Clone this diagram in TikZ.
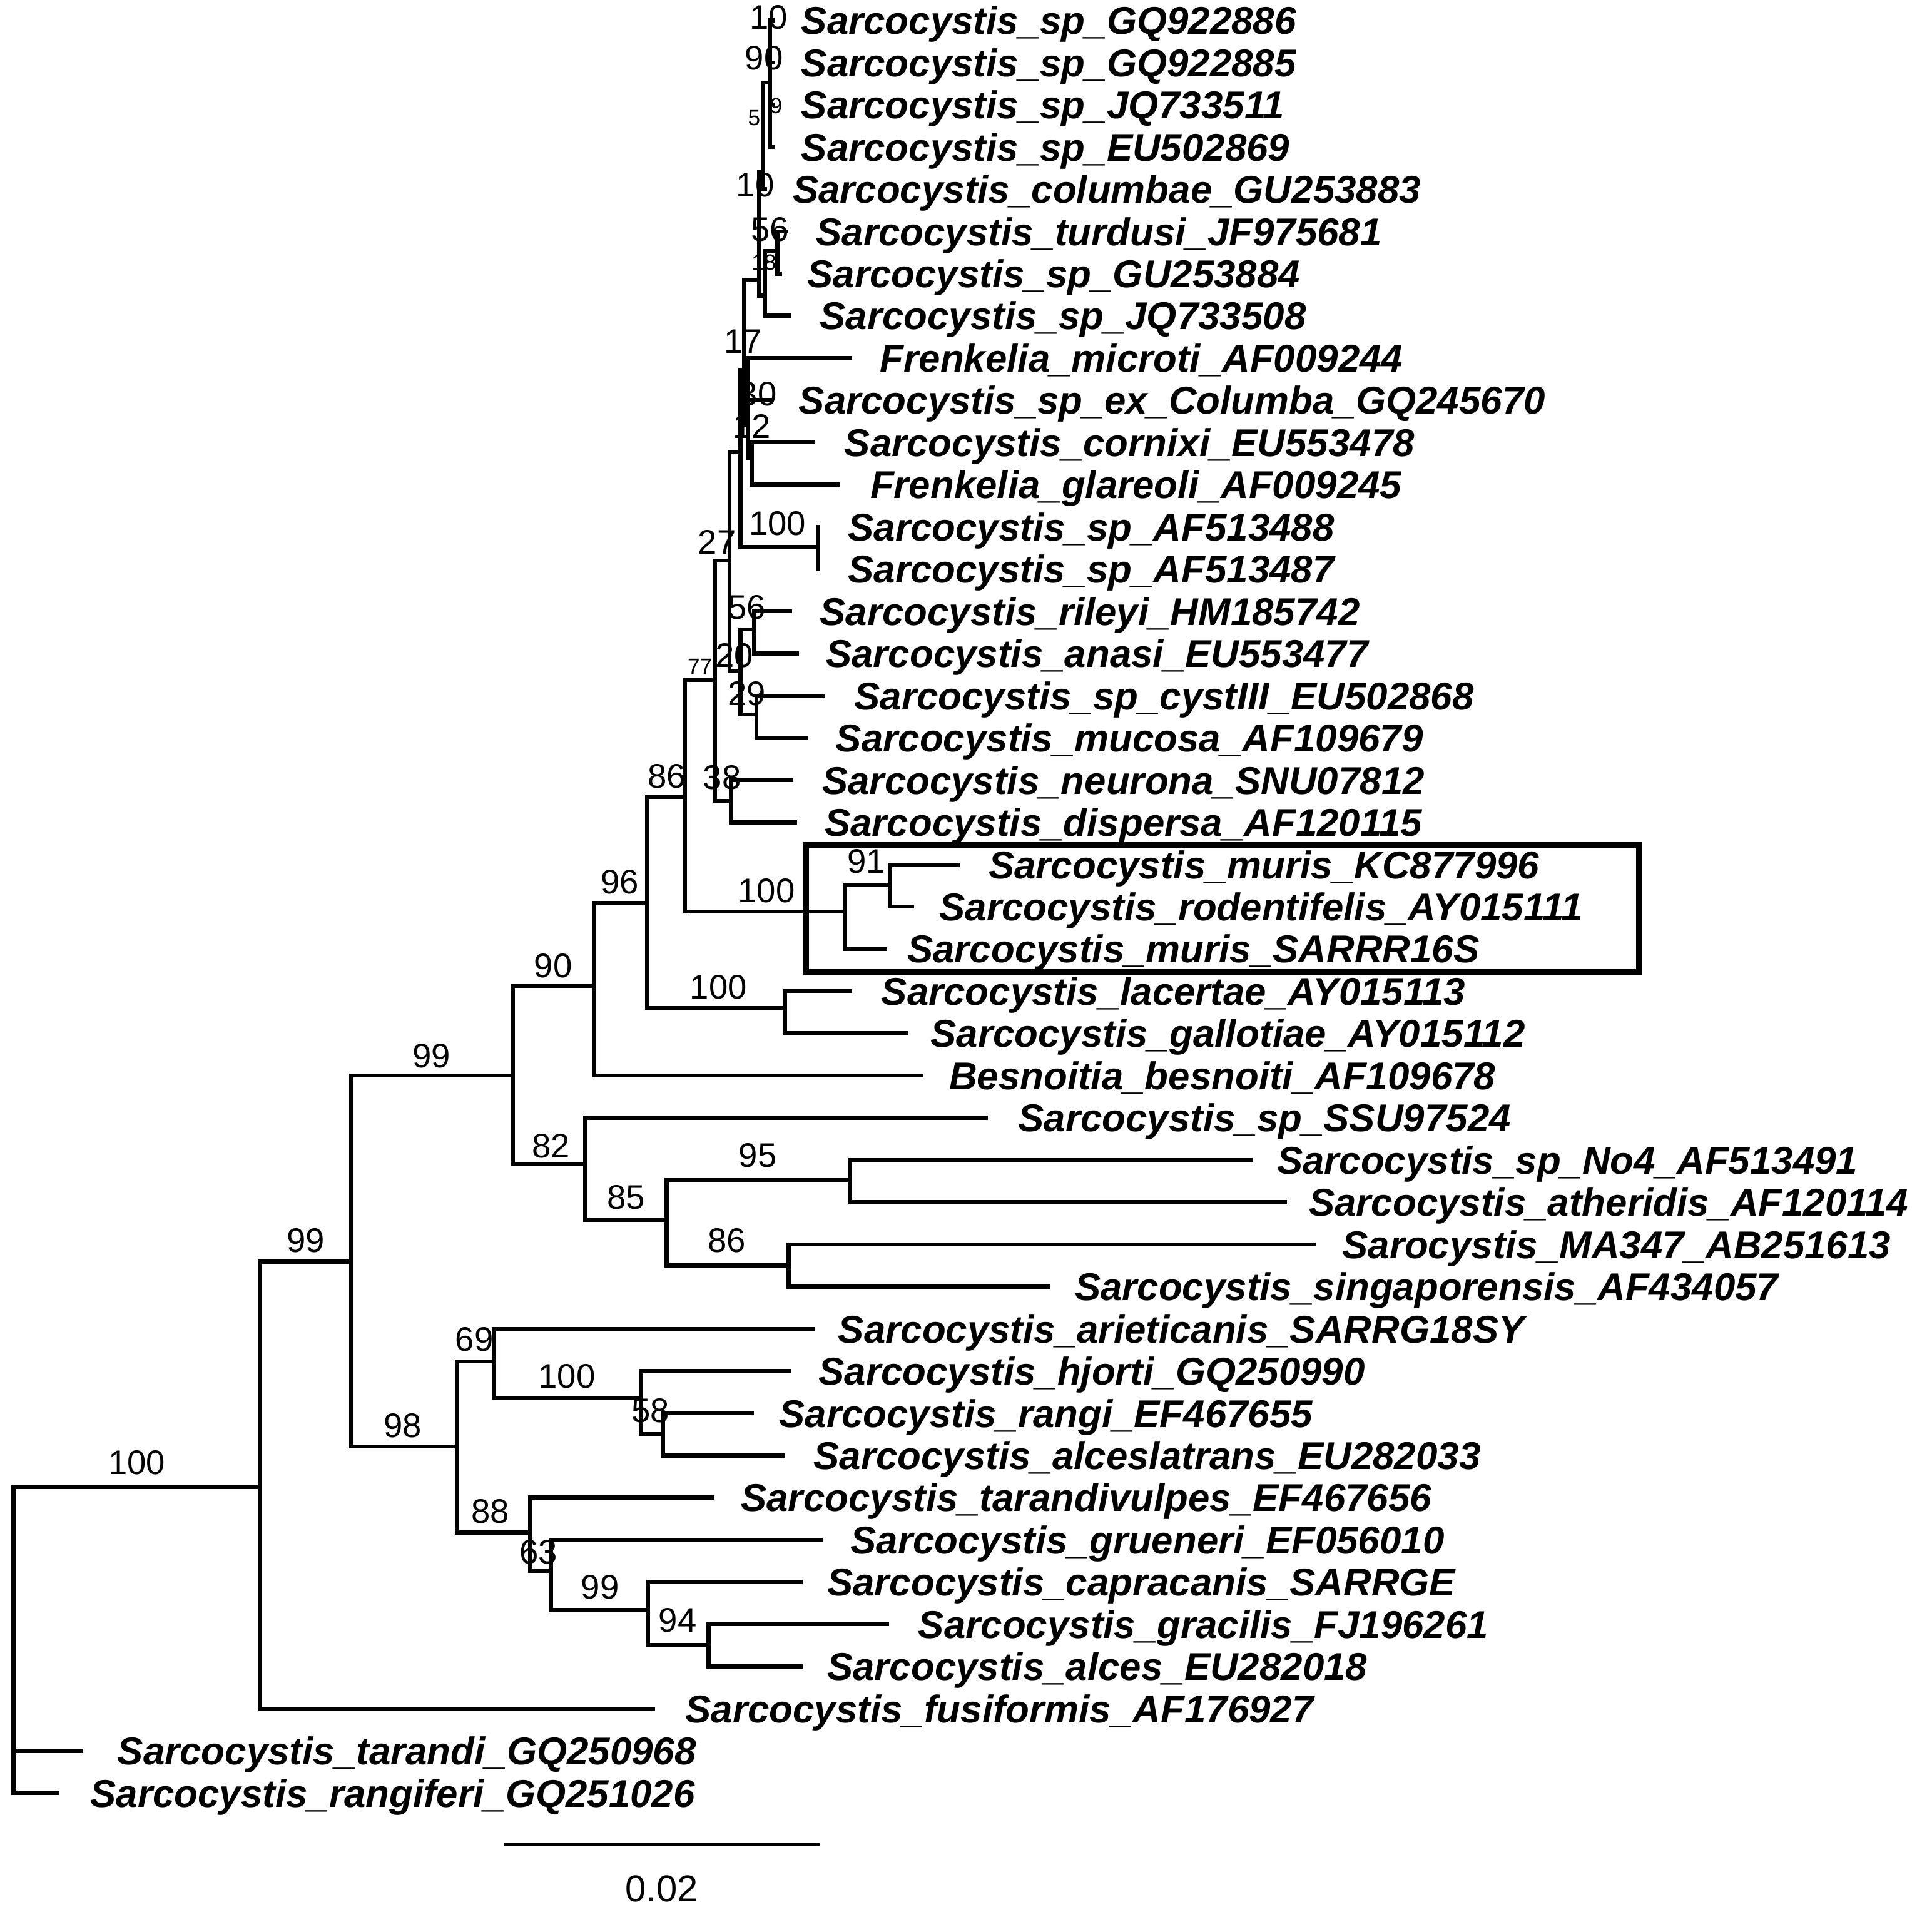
\documentclass[tikz,border=0pt]{standalone}
\usepackage{fontspec}
\setmainfont{Liberation Sans}
\newcommand\tleaf[5]{\coordinate (#1) at (#3,{16.5+34.26*#2});
  \node[lab] (#1-l) at (#4,{16.5+34.26*#2+11.3}) {#5};}
\newcommand\brc[2]{\draw[br] (#1) |- (#2);}
\begin{document}
\begin{tikzpicture}[x=0.19694mm,y=-0.19692mm,
  br/.style={line width=0.065cm,line cap=rect},
  thinbr/.style={line width=0.04cm},
  lab/.style={inner sep=0pt,anchor=base west,font=\fontsize{17.6}{20}\selectfont\bfseries\itshape},
  bsl/.style={inner sep=0pt,font=\fontsize{15.5}{18}\selectfont},
  bstiny/.style={inner sep=0pt,font=\fontsize{10}{12}\selectfont}]
\fill[white] (0,0) rectangle (1568,1556);
\useasboundingbox (0,0) rectangle (1568,1556);

% ---------- leaves ----------
\tleaf{r0}{0}{627}{650}{Sarcocystis\_sp\_GQ922886}
\tleaf{r1}{1}{627}{650}{Sarcocystis\_sp\_GQ922885}
\tleaf{r2}{2}{627}{650}{Sarcocystis\_sp\_JQ733511}
\tleaf{r3}{3}{627}{650}{Sarcocystis\_sp\_EU502869}
\tleaf{r4}{4}{621}{643}{Sarcocystis\_columbae\_GU253883}
\tleaf{r5}{5}{638}{662}{Sarcocystis\_turdusi\_JF975681}
\tleaf{r6}{6}{633}{655}{Sarcocystis\_sp\_GU253884}
\tleaf{r7}{7}{640}{665}{Sarcocystis\_sp\_JQ733508}
\tleaf{r8}{8}{690}{714}{Frenkelia\_microti\_AF009244}
\tleaf{r9}{9}{625}{648}{Sarcocystis\_sp\_ex\_Columba\_GQ245670}
\tleaf{r10}{10}{660}{685}{Sarcocystis\_cornixi\_EU553478}
\tleaf{r11}{11}{680}{706}{Frenkelia\_glareoli\_AF009245}
\tleaf{r12}{12}{664}{688}{Sarcocystis\_sp\_AF513488}
\tleaf{r13}{13}{664}{688}{Sarcocystis\_sp\_AF513487}
\tleaf{r14}{14}{641}{665}{Sarcocystis\_rileyi\_HM185742}
\tleaf{r15}{15}{647}{670}{Sarcocystis\_anasi\_EU553477}
\tleaf{r16}{16}{668}{693}{Sarcocystis\_sp\_cystIII\_EU502868}
\tleaf{r17}{17}{654}{678}{Sarcocystis\_mucosa\_AF109679}
\tleaf{r18}{18}{642}{667}{Sarcocystis\_neurona\_SNU07812}
\tleaf{r19}{19}{645}{669}{Sarcocystis\_dispersa\_AF120115}
\tleaf{r20}{20}{778}{802}{Sarcocystis\_muris\_KC877996}
\tleaf{r21}{21}{740}{762}{Sarcocystis\_rodentifelis\_AY015111}
\tleaf{r22}{22}{718}{736}{Sarcocystis\_muris\_SARRR16S}
\tleaf{r23}{23}{690}{715}{Sarcocystis\_lacertae\_AY015113}
\tleaf{r24}{24}{735}{755}{Sarcocystis\_gallotiae\_AY015112}
\tleaf{r25}{25}{748}{770}{Besnoitia\_besnoiti\_AF109678}
\tleaf{r26}{26}{800}{826}{Sarcocystis\_sp\_SSU97524}
\tleaf{r27}{27}{1015}{1036}{Sarcocystis\_sp\_No4\_AF513491}
\tleaf{r28}{28}{1043}{1062}{Sarcocystis\_atheridis\_AF120114}
\tleaf{r29}{29}{1066}{1089}{Sarocystis\_MA347\_AB251613}
\tleaf{r30}{30}{851}{872}{Sarcocystis\_singaporensis\_AF434057}
\tleaf{r31}{31}{660}{680}{Sarcocystis\_arieticanis\_SARRG18SY}
\tleaf{r32}{32}{640}{664}{Sarcocystis\_hjorti\_GQ250990}
\tleaf{r33}{33}{610}{632}{Sarcocystis\_rangi\_EF467655}
\tleaf{r34}{34}{635}{660}{Sarcocystis\_alceslatrans\_EU282033}
\tleaf{r35}{35}{578}{601}{Sarcocystis\_tarandivulpes\_EF467656}
\tleaf{r36}{36}{666}{690}{Sarcocystis\_grueneri\_EF056010}
\tleaf{r37}{37}{650}{671}{Sarcocystis\_capracanis\_SARRGE}
\tleaf{r38}{38}{720}{745}{Sarcocystis\_gracilis\_FJ196261}
\tleaf{r39}{39}{650}{671}{Sarcocystis\_alces\_EU282018}
\tleaf{r40}{40}{530}{556}{Sarcocystis\_fusiformis\_AF176927}
\tleaf{r41}{41}{66}{95}{Sarcocystis\_tarandi\_GQ250968}
\tleaf{r42}{42}{46}{73}{Sarcocystis\_rangiferi\_GQ251026}

% ---------- internal nodes ----------
\coordinate (R) at (11,1207);
\coordinate (n100) at (211,1207);
\coordinate (n99a) at (285,1024);
\coordinate (n99b) at (416,873);
\coordinate (n90) at (482,800);
\coordinate (n96) at (525,733);
\coordinate (n86a) at (556,647);
\coordinate (n100c) at (637,818);
\coordinate (nbox) at (686,740);
\coordinate (n91) at (722,718);
\coordinate (n82) at (475,945);
\coordinate (n85) at (541,990);
\coordinate (n95) at (690,958);
\coordinate (n86b) at (640,1027);
\coordinate (n98) at (371,1174);
\coordinate (n69) at (401,1105);
\coordinate (n100d) at (520,1135);
\coordinate (n58) at (538,1164);
\coordinate (n88) at (430,1244);
\coordinate (n63) at (447,1275);
\coordinate (n99c) at (526,1307);
\coordinate (n94) at (575,1335);
\coordinate (A77) at (580,552);
\coordinate (n38) at (593,650);
\coordinate (B27) at (592,455);
\coordinate (C) at (601,367);
\coordinate (D20) at (601,545);
\coordinate (n100e) at (664,444);
\coordinate (E56) at (612,511);
\coordinate (F29) at (614,580);
\coordinate (G) at (604,300);
\coordinate (G2) at (607,345);
\coordinate (K) at (610,372);
\coordinate (H) at (616,227);
\coordinate (M) at (621,240);
\coordinate (T) at (631,204);
\coordinate (L) at (619,140);
\coordinate (N) at (625,67);

% ---------- branches ----------
\brc{R}{n100} \brc{R}{r41} \brc{R}{r42}
\brc{n100}{n99a} \brc{n100}{r40}
\brc{n99a}{n99b} \brc{n99a}{n98}
\brc{n99b}{n90} \brc{n99b}{n82}
\brc{n90}{n96} \brc{n90}{r25}
\brc{n96}{n86a} \brc{n96}{n100c}
\brc{n86a}{A77}
\draw[br] (n86a) -- (n86a |- nbox);
\draw[thinbr] (n86a |- nbox) -- (nbox);
\brc{n100c}{r23} \brc{n100c}{r24}
\brc{nbox}{n91} \brc{nbox}{r22}
\brc{n91}{r20} \brc{n91}{r21}
\brc{n82}{r26} \brc{n82}{n85}
\brc{n85}{n95} \brc{n85}{n86b}
\brc{n95}{r27} \brc{n95}{r28}
\brc{n86b}{r29} \brc{n86b}{r30}
\brc{n98}{n69} \brc{n98}{n88}
\brc{n69}{r31} \brc{n69}{n100d}
\brc{n100d}{r32} \brc{n100d}{n58}
\brc{n58}{r33} \brc{n58}{r34}
\brc{n88}{r35} \brc{n88}{n63}
\brc{n63}{r36} \brc{n63}{n99c}
\brc{n99c}{r37} \brc{n99c}{n94}
\brc{n94}{r38} \brc{n94}{r39}
\brc{A77}{B27} \brc{A77}{n38}
\brc{n38}{r18} \brc{n38}{r19}
\brc{B27}{C} \brc{B27}{D20}
\brc{C}{G} \brc{C}{n100e}
\brc{n100e}{r12} \brc{n100e}{r13}
\brc{D20}{E56} \brc{D20}{F29}
\brc{E56}{r14} \brc{E56}{r15}
\brc{F29}{r16} \brc{F29}{r17}
\brc{G}{H} \brc{G}{G2}
\brc{G2}{r8} \brc{G2}{r9} \brc{G2}{K}
\brc{K}{r10} \brc{K}{r11}
\brc{H}{L} \brc{H}{M}
\brc{M}{T} \brc{M}{r7}
\brc{T}{r5} \brc{T}{r6}
\brc{L}{N} \brc{L}{r4}
\brc{N}{r0} \brc{N}{r1} \brc{N}{r2} \brc{N}{r3}

% ---------- highlight box ----------
\coordinate (bx1) at (654,686);
\coordinate (bx2) at (1330,789);
\draw[line width=0.095cm] (bx1) rectangle (bx2);

% ---------- support values ----------
\node[bsl] (b1) at (111,1187) {100};
\node[bsl] (b2) at (248,1007) {99};
\node[bsl] (b3) at (350,857) {99};
\node[bsl] (b4) at (327,1157) {98};
\node[bsl] (b5) at (449,784) {90};
\node[bsl] (b6) at (447,930) {82};
\node[bsl] (b7) at (503,716) {96};
\node[bsl] (b8) at (508,972) {85};
\node[bsl] (b9) at (615,938) {95};
\node[bsl] (b10) at (590,1007) {86};
\node[bsl] (b11) at (541,630) {86};
\node[bsl] (b12) at (583,801) {100};
\node[bsl] (b13) at (622,723) {100};
\node[bsl] (b14) at (703,699) {91};
\node[bsl] (b15) at (385,1087) {69};
\node[bsl] (b16) at (460,1117) {100};
\node[bsl] (b17) at (528,1145) {58};
\node[bsl] (b18) at (398,1227) {88};
\node[bsl] (b19) at (437,1260) {63};
\node[bsl] (b20) at (487,1288) {99};
\node[bsl] (b21) at (550,1315) {94};
\node[bsl] (t1) at (624,14) {10};
\node[bsl] (t2) at (620,47) {90};
\node[bstiny] (t3) at (612,96) {5};
\node[bstiny] (t4) at (630,86) {9};
\node[bsl] (t5) at (613,150) {10};
\node[bsl] (t6) at (625,186) {56};
\node[bstiny] (t7) at (620,213) {18};
\node[bsl] (t8) at (603,277) {17};
\node[bsl] (t9) at (615,320) {30};
\node[bsl] (t10) at (610,346) {12};
\node[bsl] (t11) at (582,440) {27};
\node[bsl] (t12) at (631,425) {100};
\node[bsl] (t13) at (606,493) {56};
\node[bsl] (t14) at (596,532) {20};
\node[bstiny] (t15) at (568,541) {77};
\node[bsl] (t16) at (606,563) {29};
\node[bsl] (t17) at (586,631) {38};

% ---------- scale bar ----------
\coordinate (sb1) at (411,1497);
\coordinate (sb2) at (664,1497);
\draw[br] (sb1) -- (sb2);
\node[inner sep=0pt,font=\fontsize{17}{20}\selectfont] (sbl) at (537,1533) {0.02};
\end{tikzpicture}
\end{document}
